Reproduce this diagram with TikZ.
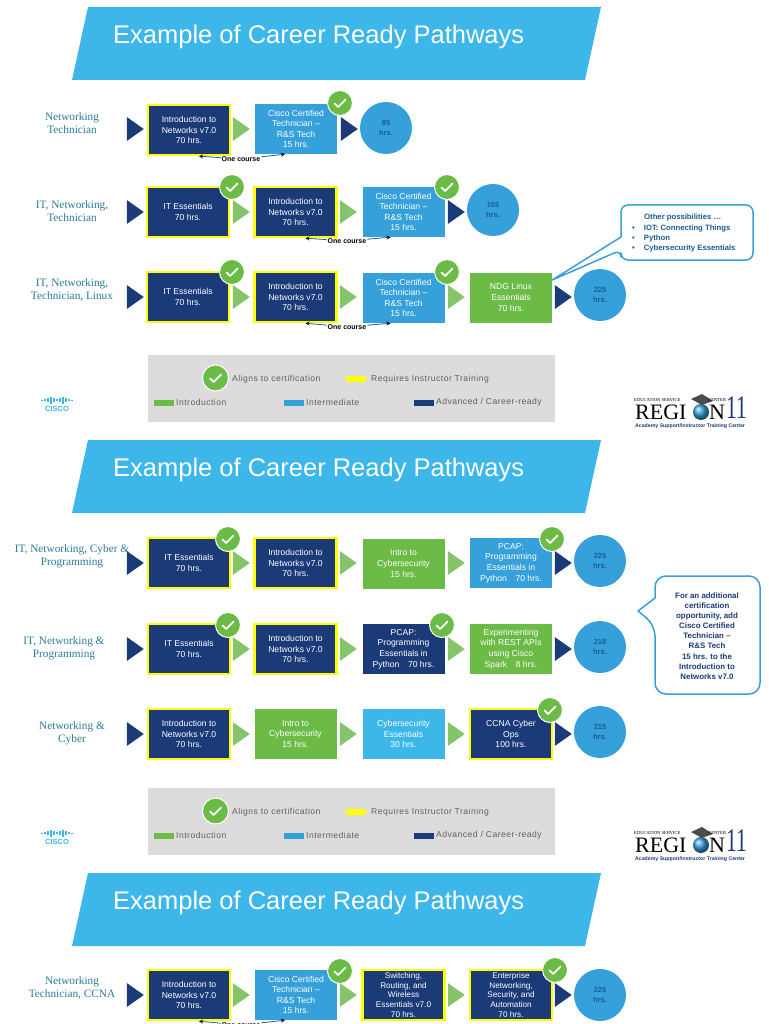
\documentclass[tikz,border=0pt]{standalone}
\usepackage{fontspec}
\setmainfont{Liberation Sans}
\newfontfamily\trackfont{Liberation Serif}
\newfontfamily\legendfont[LetterSpace=5.5]{Liberation Sans}
\usetikzlibrary{positioning}
\usetikzlibrary{shapes.geometric}
\definecolor{navybox}{HTML}{1B3A78}
\definecolor{bluebox}{HTML}{36A0DA}
\definecolor{skybox}{HTML}{3DB7EA}
\definecolor{greenbox}{HTML}{6BBB46}
\definecolor{paletri}{HTML}{85C46A}
\definecolor{trackink}{HTML}{2A7A9B}
\definecolor{hoursink}{HTML}{1B5C96}
\definecolor{legendgrey}{HTML}{DCDCDC}
\definecolor{legendink}{HTML}{5F5F5F}
\definecolor{markyellow}{HTML}{FFFF00}
\newcommand{\introtext}{Introduction to\\Networks v7.0\\70 hrs.}
\newcommand{\ittext}{IT Essentials\\70 hrs.}
\newcommand{\ccttext}{Cisco Certified\\Technician --\\R\&S Tech\\15 hrs.}
\tikzset{
  stepnode/.style={minimum width=82,minimum height=50,inner sep=0,align=center,text=white,
    font=\fontsize{8.6}{10.6}\selectfont},
  navystep/.style={stepnode,fill=navybox},
  trainstep/.style={navystep,draw=markyellow,line width=2.4pt},
  tightstep/.style={trainstep,font=\fontsize{8.2}{9.8}\selectfont},
  bluestep/.style={stepnode,fill=bluebox},
  skystep/.style={stepnode,fill=skybox},
  greenstep/.style={stepnode,fill=greenbox},
  hoursnode/.style={circle,fill=bluebox,minimum size=52,inner sep=0,align=center,text=hoursink,
    font=\fontsize{7.5}{10.5}\selectfont\bfseries},
  tracknode/.style={align=center,text=trackink,inner sep=0,font=\trackfont\fontsize{11.3}{13}\selectfont},
  navytri/.style={isosceles triangle,isosceles triangle stretches,fill=navybox,inner sep=0,
    minimum width=24,minimum height=17,xshift=-2},
  paletrinode/.style={navytri,fill=paletri},
  certnode/.style={circle,fill=greenbox,draw=white,line width=1pt,minimum size=25,inner sep=0,
    path picture={\draw[white,line width=1.8pt,line cap=round,line join=round,shift={(path picture bounding box.center)}]
      (-5.5,0.5) -- (-1.8,4) -- (5.5,-3.5);}},
  coursenode/.style={inner sep=1pt,font=\bfseries\fontsize{7}{8}\selectfont},
  coursearrow/.style={-stealth,draw=navybox!80!cyan,line width=0.8pt},
  notenode/.style={align=left,inner sep=0,text=hoursink,font=\bfseries\fontsize{7.7}{10.4}\selectfont},
  noteline/.style={draw=bluebox,fill=white,line width=1.5pt,line join=round},
  legendtext/.style={text=legendink,inner sep=0,anchor=west,font=\legendfont\fontsize{8.6}{10}\selectfont},
  legendbar/.style={minimum width=20,minimum height=6.5,inner sep=0}
}
\begin{document}
\begin{tikzpicture}[x=1pt,y=-1pt]
  \useasboundingbox (0,0) rectangle (768,1024);
  \clip (0,0) rectangle (768,1024);

  \foreach \off/\nm in {0/a,433/b,866/c} {
    \fill[skybox] (88,7+\off) -- (601,7+\off) -- (585,80+\off) -- (72,80+\off) -- cycle;
    \node[anchor=west,inner sep=0,text=white,font=\fontsize{25.5}{30}\selectfont] (title\nm) at (113,37+\off) {Example of Career Ready Pathways};
  }

  \foreach \off/\nm in {0/a,433/b} {
    \fill[legendgrey] (148,355+\off) rectangle (555,422+\off);
    \node[certnode,minimum size=26] (legcert\nm) at (215.5,378+\off) {};
    \node[legendtext] (legalign\nm) at (232,379+\off) {Aligns to certification};
    \node[legendbar,fill=markyellow] (legyellow\nm) at (356,379+\off) {};
    \node[legendtext] (legtrain\nm) at (371,379+\off) {Requires Instructor Training};
    \node[legendbar,fill=greenbox] (leggreen\nm) at (164,403+\off) {};
    \node[legendtext] (legintro\nm) at (176,402.5+\off) {Introduction};
    \node[legendbar,fill=bluebox] (legblue\nm) at (294,403+\off) {};
    \node[legendtext] (legmid\nm) at (306,402.5+\off) {Intermediate};
    \node[legendbar,fill=navybox] (legnavy\nm) at (424,403+\off) {};
    \node[legendtext] (legadv\nm) at (436,402.5+\off) {Advanced / Career-ready};

    \foreach \bx/\bh in {43/1,46/2,49/4,52/7,55/4,58/2,61/4,64/7,67/4,70/2,73/1}
      \draw[skybox,line width=1.1pt] (\bx-1,400+\off-\bh/2) -- (\bx-1,400+\off+\bh/2);
    \node[text=skybox,inner sep=0,font=\bfseries\fontsize{7.5}{8}\selectfont] (cisco\nm) at (57,409+\off) {CISCO};

    \node[inner sep=0,anchor=west,font=\trackfont\fontsize{4.6}{5}\selectfont] (esc\nm) at (634,400+\off) {EDUCATION SERVICE};
    \node[inner sep=0,anchor=west,font=\trackfont\fontsize{22}{22}\selectfont] (regi\nm) at (635,412+\off) {REGI};
    \shade[ball color=bluebox] (701,412+\off) circle (8);
    \fill[black!70] (691,399+\off) -- (702,394+\off) -- (713,401+\off) -- (702,405+\off) -- cycle;
    \node[inner sep=0,anchor=west,font=\trackfont\fontsize{4.6}{5}\selectfont] (center\nm) at (708,400+\off) {CENTER};
    \node[inner sep=0,anchor=west,font=\trackfont\fontsize{22}{22}\selectfont] (regn\nm) at (709,412+\off) {N};
    \node[inner sep=0,anchor=west,text=navybox,font=\trackfont\fontsize{33}{33}\selectfont] (eleven\nm) at (726,408+\off) {\scalebox{0.65}[1]{11}};
    \node[inner sep=0,anchor=west,text=navybox,font=\bfseries\fontsize{5.2}{6}\selectfont] (academy\nm) at (635,426+\off) {Academy Support/Instructor Training Center};
  }

  \node[tracknode] (trackA) at (72,123) {Networking\\Technician};
  \node[navytri] (triAa) at (135,129) {};
  \node[trainstep] (introA) at (189,130) {\introtext};
  \node[paletrinode] (triAb) at (241,129) {};
  \node[bluestep] (cctA) at (296,129) {\ccttext};
  \node[certnode] (certAa) at (340,103) {};
  \node[navytri] (triAc) at (349,129) {};
  \node[hoursnode] (hoursA) at (386,128) {85\\hrs.};
  \node[coursenode] (courseA) at (241,159) {One course};
  \path[coursearrow]
    (courseA) edge ([xshift=10]introA.south)
    (courseA) edge ([xshift=-11]cctA.south);

  \node[tracknode] (trackB) at (72,211) {IT, Networking,\\Technician};
  \node[navytri] (triBa) at (135,212) {};
  \node[trainstep] (itB) at (188,212) {\ittext};
  \node[certnode] (certBa) at (232,187) {};
  \node[paletrinode] (triBb) at (241,212) {};
  \node[trainstep] (introB) at (295.5,212) {\introtext};
  \node[paletrinode] (triBc) at (348,212) {};
  \node[bluestep] (cctB) at (403.5,212) {\ccttext};
  \node[certnode] (certBb) at (447,187) {};
  \node[navytri] (triBd) at (456,212) {};
  \node[hoursnode] (hoursB) at (493,210) {155\\hrs.};
  \node[coursenode] (courseB) at (347,241) {One course};
  \path[coursearrow]
    (courseB) edge ([xshift=10]introB.south)
    (courseB) edge ([xshift=-13]cctB.south);

  \node[tracknode] (trackC) at (72,290) {IT, Networking,\\Technician, Linux};
  \node[navytri] (triCa) at (135,297) {};
  \node[trainstep] (itC) at (188,297) {\ittext};
  \node[certnode] (certCa) at (232,272) {};
  \node[paletrinode] (triCb) at (241,297) {};
  \node[trainstep] (introC) at (295.5,297) {\introtext};
  \node[paletrinode] (triCc) at (348,297) {};
  \node[bluestep] (cctC) at (403.5,298) {\ccttext};
  \node[paletrinode] (triCd) at (456,297) {};
  \node[greenstep] (linuxC) at (511,297.5) {NDG Linux\\Essentials\\70 hrs.};
  \node[certnode] (certCb) at (447,272) {};
  \node[navytri] (triCe) at (563,297) {};
  \node[hoursnode] (hoursC) at (600,295) {225\\hrs.};
  \node[coursenode] (courseC) at (347,327) {One course};
  \path[coursearrow]
    (courseC) edge ([xshift=10]introC.south)
    (courseC) edge ([xshift=-13]cctC.south);

  \coordinate (noteAtip) at ([yshift=17.5]linuxC.east);
  \draw[noteline,rounded corners=7] (621,237) |- (753,205) |- (621,260) -- (621,250) [sharp corners] -- (noteAtip) -- cycle;
  \node[notenode,anchor=north west] (noteA) at (632,214) {\hspace*{12pt}Other possibilities \dots\\
    \textbullet\hspace{9pt}IOT: Connecting Things\\
    \textbullet\hspace{9pt}Python\\
    \textbullet\hspace{9pt}Cybersecurity Essentials};

  \node[tracknode] (trackD) at (72,556) {IT, Networking, Cyber \&\\Programming};
  \node[navytri] (triDa) at (135,563) {};
  \node[trainstep] (itD) at (189,563) {\ittext};
  \node[certnode] (certDa) at (228,539) {};
  \node[paletrinode] (triDb) at (241,563) {};
  \node[trainstep] (introD) at (295.5,563) {\introtext};
  \node[paletrinode] (triDc) at (348,563) {};
  \node[greenstep] (cyberD) at (403.5,563.5) {Intro to\\Cybersecurity\\15 hrs.};
  \node[paletrinode] (triDd) at (456,563) {};
  \node[bluestep] (pcapD) at (511,563) {PCAP:\\Programming\\Essentials in\\Python\quad 70 hrs.};
  \node[certnode] (certDb) at (552,539) {};
  \node[navytri] (triDe) at (563,563) {};
  \node[hoursnode] (hoursD) at (600,561) {225\\hrs.};

  \node[tracknode] (trackE) at (64,648) {IT, Networking \&\\Programming};
  \node[navytri] (triEa) at (135,649) {};
  \node[trainstep] (itE) at (189,649) {\ittext};
  \node[certnode] (certEa) at (228,625) {};
  \node[paletrinode] (triEb) at (241,649) {};
  \node[trainstep] (introE) at (295.5,649) {\introtext};
  \node[paletrinode] (triEc) at (348,649) {};
  \node[navystep] (pcapE) at (403.5,649) {PCAP:\\Programming\\Essentials in\\Python\quad 70 hrs.};
  \node[certnode] (certEb) at (442,625) {};
  \node[paletrinode] (triEd) at (456,649) {};
  \node[greenstep] (sparkE) at (511,649) {Experimenting\\with REST APIs\\using Cisco\\Spark\quad 8 hrs.};
  \node[navytri] (triEe) at (563,649) {};
  \node[hoursnode] (hoursE) at (600,647) {218\\hrs.};

  \node[tracknode] (trackF) at (72,733) {Networking \&\\Cyber};
  \node[navytri] (triFa) at (135,734) {};
  \node[trainstep] (introF) at (189,734) {\introtext};
  \node[paletrinode] (triFb) at (241,734) {};
  \node[greenstep] (cyberF) at (295.5,734) {Intro to\\Cybersecurity\\15 hrs.};
  \node[paletrinode] (triFc) at (348,734) {};
  \node[skystep] (essF) at (403.5,734) {Cybersecurity\\Essentials\\30 hrs.};
  \node[paletrinode] (triFd) at (456,734) {};
  \node[trainstep] (opsF) at (511,734) {CCNA Cyber\\Ops\\100 hrs.};
  \node[certnode] (certFa) at (550,710) {};
  \node[navytri] (triFe) at (563,734) {};
  \node[hoursnode] (hoursF) at (600,732) {215\\hrs.};

  \coordinate (noteBtip) at (638,611);
  \draw[noteline,rounded corners=11] (655,598) |- (760,576) |- (655,694) -- (655,625) [sharp corners] -- (noteBtip) -- cycle;
  \node[notenode,align=center,text=navybox,font=\bfseries\fontsize{7.9}{10.1}\selectfont] (noteB) at (707,636) {For an additional\\certification\\opportunity, add\\Cisco Certified\\Technician --\\R\&S Tech\\15 hrs. to the\\Introduction to\\Networks v7.0};

  \node[tracknode] (trackG) at (72,988) {Networking\\Technician, CCNA};
  \node[navytri] (triGa) at (135,995) {};
  \node[trainstep] (introG) at (189,995) {\introtext};
  \node[paletrinode] (triGb) at (241,995) {};
  \node[bluestep] (cctG) at (296,995) {\ccttext};
  \node[certnode] (certGa) at (340,971) {};
  \node[paletrinode] (triGc) at (348,995) {};
  \node[tightstep] (wirelessG) at (403.5,995) {Switching,\\Routing, and\\Wireless\\Essentials v7.0\\70 hrs.};
  \node[paletrinode] (triGd) at (456,995) {};
  \node[tightstep] (autoG) at (511,995) {Enterprise\\Networking,\\Security, and\\Automation\\70 hrs.};
  \node[certnode] (certGb) at (555,970) {};
  \node[navytri] (triGe) at (563,995) {};
  \node[hoursnode] (hoursG) at (600,995) {225\\hrs.};
  \node[coursenode] (courseG) at (241,1025) {One course};
  \path[coursearrow]
    (courseG) edge ([xshift=10]introG.south)
    (courseG) edge ([xshift=-11]cctG.south);
\end{tikzpicture}
\end{document}
